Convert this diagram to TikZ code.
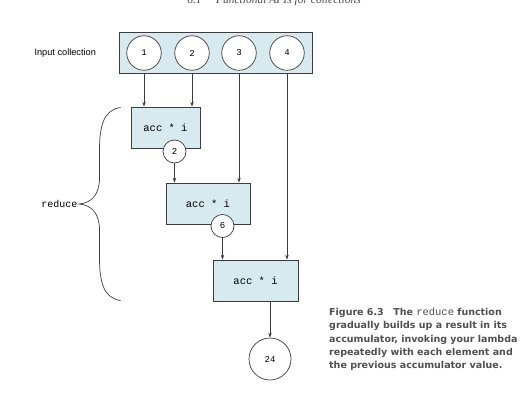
\documentclass[tikz,border=0pt]{standalone}
\usepackage{fontspec}
\setmainfont{Liberation Serif}
\setsansfont{Liberation Sans}
\setmonofont{Liberation Mono}
\newfontfamily\capfont{DejaVu Sans}
\usepackage{xcolor}
\usetikzlibrary{arrows.meta}
\definecolor{boxblue}{RGB}{214,234,240}
\definecolor{linegray}{RGB}{60,60,60}
\definecolor{capgray}{RGB}{80,80,80}

\begin{document}
\begin{tikzpicture}[x=1pt, y=-1pt, >={Stealth[length=5pt,width=3.5pt]},
        wire/.style={draw=linegray, line width=0.7pt},
        item/.style={circle, wire, fill=white, minimum size=34.5pt, inner sep=0pt, font=\ttfamily\fontsize{9}{9}\selectfont},
        partial/.style={circle, wire, fill=white, minimum size=23pt, inner sep=0pt, font=\ttfamily\fontsize{9}{9}\selectfont},
        accbox/.style={rectangle, wire, fill=boxblue, inner sep=0pt, font=\ttfamily\fontsize{10.5}{10.5}\selectfont}]
        \useasboundingbox (0, 0) rectangle (524, 401);
        \node[anchor=base, font=\itshape\fontsize{11.5}{11.5}\selectfont, text=black!70] (hdr) at (274, 4) {6.1\quad\ Functional APIs for collections};

        % input collection
        \node[rectangle, wire, fill=boxblue, minimum width=193pt, minimum height=41pt, inner sep=0pt] (coll) at (216, 53) {};
        \node[anchor=west, font=\sffamily\fontsize{9.2}{9.2}\selectfont] (lbl) at (31, 53) {Input collection};
        \node[item] (i1) at (144, 53) {1};
        \node[item] (i2) at (192, 53) {2};
        \node[item] (i3) at (239, 53) {3};
        \node[item] (i4) at (287, 53) {4};

        % reduce steps
        \node[accbox, minimum width=69pt, minimum height=41pt] (m1) at (165.5, 127.5) {acc * i};
        \node[accbox, minimum width=84pt, minimum height=41pt] (m2) at (208, 203.5) {acc * i};
        \node[accbox, minimum width=85pt, minimum height=41pt] (m3) at (255.5, 280.5) {acc * i};
        \node[partial] (r1) at (174.5, 151.5) {2};
        \node[partial] (r2) at (222.5, 226) {6};
        \node[item, minimum size=42pt] (res) at (270, 359) {24};

        \draw[wire, ->] (i1 |- coll.south) -- (i1 |- m1.north);
        \draw[wire, ->] (i2 |- coll.south) -- (i2 |- m1.north);
        \draw[wire, ->] (r1) -- (r1 |- m2.north);
        \draw[wire, ->] (i3 |- coll.south) -- (i3 |- m2.north);
        \draw[wire, ->] (r2) -- (r2 |- m3.north);
        \draw[wire, ->] (i4 |- coll.south) -- (i4 |- m3.north);
        \draw[wire, ->] (res |- m3.south) -- (res);

        % brace
        \coordinate (btop) at (120.5, 107.5);
        \coordinate (bbot) at (120.5, 300.5);
        \coordinate (btip) at (79, 204);
        \draw[wire] (btop) .. controls (104, 110) and (99.5, 125) .. (99.5, 150) -- (99.5, 178)
            .. controls (99.5, 194) and (92, 203) .. (btip)
            .. controls (92, 205) and (99.5, 214) .. (99.5, 230) -- (99.5, 258)
            .. controls (99.5, 283) and (104, 298) .. (bbot);
        \node[anchor=east, font=\ttfamily\fontsize{10}{10}\selectfont, inner sep=1.5pt] (red) at (btip) {reduce};

        % caption
        \node[anchor=north west, align=left, inner sep=0pt, text=capgray,
              font=\capfont\bfseries\fontsize{9.5}{13.1}\selectfont] (cap) at (329, 308)
            {Figure 6.3\quad The {\mdseries\ttfamily\fontsize{10.5}{13.1}\selectfont reduce} function\\
             gradually builds up a result in its\\
             accumulator, invoking your lambda\\
             repeatedly with each element and\\
             the previous accumulator value.};
    \end{tikzpicture}
\end{document}
